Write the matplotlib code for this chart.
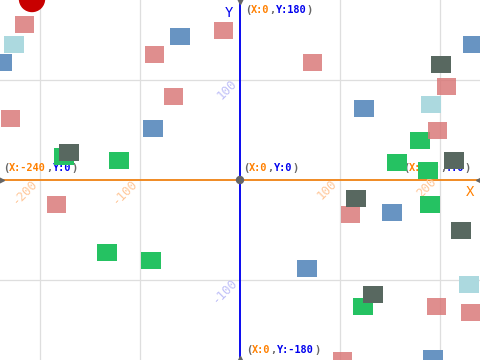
import matplotlib.pyplot as plt
from matplotlib.patches import Rectangle, Circle

# stage coordinates (x: -240..240, y: -180..180)

pink_x = [-216, -86, -230, -17, 72, -67, 206, -184, 197, 110, 196, 230, 102]
pink_y = [156, 126, 62, 150, 118, 84, 94, -24, 50, -34, -126, -132, -180]

green_x = [-176, -121, 180, 157, 188, 190, -133, -89, 123]
green_y = [24, 20, 40, 18, 10, -24, -72, -80, -126]

blue_x = [-238, -60, 233, 124, -87, 152, 67, 193]
blue_y = [118, 144, 136, 72, 52, -32, -88, -178]

lightblue_x = [-226, 191, 229]
lightblue_y = [136, 76, -104]

gray_x = [-171, 201, 214, 116, 221, 133]
gray_y = [28, 116, 20, -18, -50, -114]

ball_x, ball_y = -208, 181

grid_ticks_x = [-200, -100, 100, 200]
grid_ticks_y = [-100, 100]

fig = plt.figure(figsize=(4.8, 3.6), dpi=100)
ax = fig.add_axes([0, 0, 1, 1])
ax.set_xlim(-240, 240)
ax.set_ylim(-180, 180)
ax.axis("off")

# grid
for gx in grid_ticks_x:
    ax.axvline(gx, color="#dedede", lw=0.9, zorder=0)
for gy in grid_ticks_y:
    ax.axhline(gy, color="#dedede", lw=0.9, zorder=0)

# axes
ax.axhline(0, color="#f08a24", lw=1.4, zorder=1)
ax.axvline(0, color="#0a0af0", lw=1.4, zorder=1)

# arrow heads at the edges and the origin dot
ax.plot([0], [181], marker="v", color="#666666", ms=7, zorder=2)
ax.plot([0], [-181], marker="^", color="#666666", ms=7, zorder=2)
ax.plot([-241], [0], marker=">", color="#666666", ms=7, zorder=2)
ax.plot([241], [0], marker="<", color="#666666", ms=7, zorder=2)
ax.add_patch(Circle((0, 0), 3.5, color="#666666", zorder=2))

# tick labels (rotated)
for v, (tx, ty) in zip(grid_ticks_x, [(-215, -12), (-115, -12), (87, -10), (187, -8)]):
    ax.text(tx, ty, str(v), rotation=45, color="#ffc89a", fontsize=9,
            family="DejaVu Sans Mono", ha="center", va="center", zorder=1)
for v, (tx, ty) in zip(grid_ticks_y, [(-15, -111), (-13, 90)]):
    ax.text(tx, ty, str(v), rotation=45, color="#c0c0f8", fontsize=9,
            family="DejaVu Sans Mono", ha="center", va="center", zorder=1)

# coordinate labels
fs = 7.4
cw = fs * 0.602 * 100 / 72
ORANGE = "#ff8000"
BLUE = "#0000ee"
GRAY = "#666666"


def coord_label(px, yc, xs, ys):
    parts = [("(", GRAY), ("X:" + xs, ORANGE), (",", GRAY), ("Y:" + ys, BLUE), (")", GRAY)]
    x = px - 240
    for s, c in parts:
        ax.text(x, yc, s, color=c, fontsize=fs, family="DejaVu Sans Mono",
                weight="bold", ha="left", va="center", zorder=1)
        x += cw * len(s)


coord_label(245, 170, "0", "180")
coord_label(3, 12, "-240", "0")
coord_label(243, 12, "0", "0")
coord_label(403, 12, "240", "0")
coord_label(246, -170, "0", "-180")

ax.text(-11, 167, "Y", color=BLUE, fontsize=10, family="DejaVu Sans Mono",
        ha="center", va="center", zorder=1)
ax.text(230, -12, "X", color=ORANGE, fontsize=10, family="DejaVu Sans Mono",
        ha="center", va="center", zorder=1)

# sprites
def squares(xs, ys, color, w=20, h=17, alpha=1.0, z=3):
    for x, y in zip(xs, ys):
        ax.add_patch(Rectangle((x - w / 2, y - h / 2), w, h, facecolor=color,
                               edgecolor="none", alpha=alpha, zorder=z))


squares(green_x, green_y, "#25c262", z=3)
squares(blue_x, blue_y, "#6894c2", z=3)
squares(lightblue_x, lightblue_y, "#acd9df", z=3)
squares(pink_x, pink_y, "#d97575", w=19, alpha=0.82, z=4)
squares(gray_x, gray_y, "#586860", z=5)

ax.add_patch(Circle((ball_x, ball_y), 12.5, color="#c80000", zorder=6))

plt.savefig("out.png", dpi=100)
